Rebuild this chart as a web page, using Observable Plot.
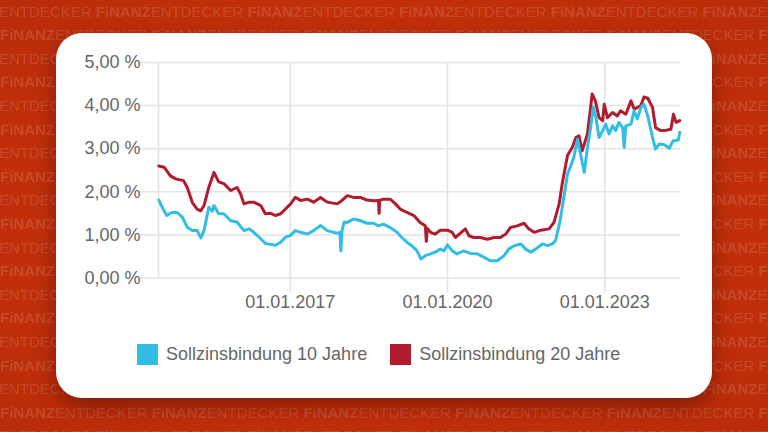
<!DOCTYPE html>
<html>
<head>
<meta charset="utf-8">
<script src="https://cdn.jsdelivr.net/npm/d3@7"></script>
<script src="https://cdn.jsdelivr.net/npm/@observablehq/plot@0.6"></script>
<style>
  html, body { margin: 0; padding: 0; }
  body { width: 768px; height: 432px; overflow: hidden; position: relative;
         background: radial-gradient(ellipse at center, #c9340a 0%, #c3300a 60%, #b92c09 100%);
         font-family: "Liberation Sans", Arial, Helvetica, sans-serif; }
  #wm { position: absolute; left: 0; top: 0; width: 768px; height: 432px; overflow: hidden; }
  .wrow { position: absolute; white-space: nowrap; font-size: 15px; line-height: 15px;
          color: rgba(255,255,255,0.14); }
  .wrow b { font-weight: 700; }
  #card { position: absolute; left: 56px; top: 33px; width: 656px; height: 365px;
          background: #fff; border-radius: 26px; box-shadow: 0 8px 22px rgba(60,0,0,0.45); }
  #chart { position: absolute; left: 0; top: 0; }
  #legend { position: absolute; left: 137px; top: 343px; display: flex; align-items: center;
            font-size: 18px; color: #666; height: 22px; }
  .item { display: flex; align-items: center; margin-right: 23px; }
  .sw { width: 21px; height: 21px; margin-right: 8px; box-sizing: border-box; }
</style>
</head>
<body>
<div id="wm"></div>
<div id="card"></div>
<div id="chart"></div>
<div id="legend"></div>
<script>
// ---- data ----
const seriesNames = ["Sollzinsbindung 10 Jahre", "Sollzinsbindung 20 Jahre"];
const seriesColors = ["#31bde4", "#b01c2e"];
const yTicks = [0, 1, 2, 3, 4, 5];
const xTicks = ["2017-01-01", "2020-01-01", "2023-01-01"];

const dates10 = ["2014-07-01","2014-07-19","2014-08-25","2014-10-01","2014-11-06","2014-12-12","2015-01-15","2015-02-20","2015-03-25","2015-04-20","2015-05-12","2015-06-14","2015-07-09","2015-07-20","2015-08-22","2015-09-27","2015-11-13","2015-12-28","2016-02-14","2016-03-22","2016-04-23","2016-06-10","2016-07-12","2016-08-18","2016-09-20","2016-10-27","2016-11-29","2017-01-04","2017-02-06","2017-03-14","2017-05-01","2017-06-13","2017-07-31","2017-09-16","2017-11-24","2017-12-13","2017-12-20","2017-12-28","2018-01-12","2018-02-03","2018-03-18","2018-05-05","2018-06-18","2018-08-04","2018-09-08","2018-10-12","2018-11-28","2019-01-15","2019-02-17","2019-03-25","2019-04-27","2019-06-03","2019-07-01","2019-07-31","2019-09-06","2019-10-08","2019-11-13","2019-12-09","2020-01-01","2020-02-03","2020-03-07","2020-04-23","2020-06-10","2020-07-27","2020-09-13","2020-10-27","2020-12-13","2021-01-30","2021-03-03","2021-04-09","2021-05-27","2021-06-29","2021-08-04","2021-09-06","2021-10-23","2021-11-28","2022-01-01","2022-01-23","2022-02-24","2022-03-25","2022-04-16","2022-05-08","2022-05-30","2022-06-25","2022-07-16","2022-08-11","2022-09-02","2022-09-24","2022-10-12","2022-10-31","2022-11-22","2022-12-17","2023-01-08","2023-01-30","2023-02-24","2023-03-18","2023-04-09","2023-05-05","2023-05-16","2023-05-27","2023-07-02","2023-07-24","2023-08-15","2023-09-09","2023-10-01","2023-10-27","2023-11-29","2023-12-20","2024-01-15","2024-02-20","2024-03-25","2024-04-20","2024-05-27","2024-06-06"];
const rate10 = [1.81,1.68,1.45,1.52,1.52,1.41,1.18,1.10,1.10,0.93,1.10,1.64,1.55,1.68,1.49,1.49,1.33,1.30,1.10,1.14,1.06,0.91,0.80,0.78,0.76,0.83,0.95,0.99,1.10,1.06,1.02,1.10,1.22,1.10,1.04,1.06,0.63,1.10,1.30,1.29,1.37,1.33,1.27,1.27,1.21,1.25,1.17,1.06,0.94,0.83,0.75,0.63,0.44,0.52,0.56,0.60,0.67,0.63,0.77,0.63,0.56,0.63,0.57,0.56,0.48,0.40,0.40,0.52,0.67,0.75,0.79,0.67,0.60,0.67,0.79,0.75,0.79,0.87,1.33,1.95,2.41,2.60,2.80,3.22,2.87,2.45,3.03,3.49,3.96,3.72,3.26,3.42,3.57,3.34,3.53,3.42,3.61,3.49,3.03,3.53,3.57,3.88,3.69,3.96,4.03,3.76,3.26,2.99,3.11,3.09,3.01,3.18,3.20,3.38];

const dates20 = ["2014-07-01","2014-08-07","2014-09-20","2014-10-27","2014-12-20","2015-01-15","2015-02-20","2015-03-25","2015-04-20","2015-05-12","2015-06-14","2015-07-20","2015-08-22","2015-09-27","2015-11-13","2015-12-28","2016-01-22","2016-02-14","2016-03-22","2016-04-23","2016-06-10","2016-07-12","2016-08-18","2016-09-20","2016-10-27","2016-11-29","2017-01-04","2017-02-06","2017-03-14","2017-05-01","2017-06-13","2017-07-31","2017-09-16","2017-11-24","2017-12-28","2018-02-03","2018-03-18","2018-05-05","2018-06-18","2018-08-04","2018-09-08","2018-09-12","2018-09-16","2018-10-12","2018-11-28","2019-01-04","2019-02-06","2019-03-25","2019-05-12","2019-06-25","2019-07-31","2019-08-07","2019-08-14","2019-09-06","2019-10-08","2019-11-13","2020-01-01","2020-02-03","2020-02-25","2020-04-01","2020-05-05","2020-05-30","2020-07-01","2020-08-18","2020-10-05","2020-11-22","2021-01-04","2021-02-10","2021-03-14","2021-05-01","2021-06-18","2021-07-20","2021-08-26","2021-10-12","2021-12-09","2022-01-12","2022-02-17","2022-03-10","2022-04-16","2022-05-19","2022-06-14","2022-07-05","2022-07-27","2022-09-02","2022-09-24","2022-10-05","2022-10-27","2022-11-22","2022-12-17","2022-12-28","2023-01-19","2023-02-24","2023-03-29","2023-04-20","2023-05-27","2023-07-02","2023-07-24","2023-09-09","2023-10-01","2023-10-27","2023-11-29","2023-12-20","2024-01-26","2024-03-03","2024-04-05","2024-04-23","2024-05-11","2024-06-06"];
const rate20 = [2.60,2.57,2.37,2.30,2.26,2.10,1.75,1.60,1.56,1.68,2.10,2.45,2.23,2.19,2.03,2.10,1.95,1.72,1.76,1.76,1.68,1.49,1.50,1.45,1.49,1.60,1.72,1.87,1.80,1.83,1.76,1.87,1.76,1.72,1.80,1.91,1.87,1.87,1.81,1.79,1.80,1.50,1.80,1.83,1.83,1.72,1.60,1.52,1.45,1.29,1.21,0.85,1.15,1.06,1.02,1.11,1.11,1.06,0.94,1.04,1.14,0.98,0.94,0.94,0.90,0.94,0.94,1.02,1.17,1.21,1.27,1.14,1.06,1.11,1.14,1.29,1.72,2.18,2.84,3.03,3.26,3.30,2.95,3.34,3.96,4.27,4.11,3.72,3.65,4.03,3.72,3.84,3.76,3.88,3.80,4.11,3.92,4.00,4.20,4.17,3.96,3.49,3.42,3.43,3.45,3.80,3.61,3.65];

// ---- build tables ----
const data10 = dates10.map((d, i) => ({date: new Date(d), value: rate10[i]}));
const data20 = dates20.map((d, i) => ({date: new Date(d), value: rate20[i]}));
const xDomain = [new Date("2014-06-29"), new Date("2024-06-11")];
const gridColor = "#e3e3e3";
const textColor = "#666666";

// ---- watermark background ----
const wm = document.getElementById("wm");
for (let r = 0; r < 19; r++) {
  const row = document.createElement("div");
  row.className = "wrow";
  row.style.top = (3.5 + r * 23.6) + "px";
  row.style.left = (r % 2 === 0 ? -56 : 0) + "px";
  row.innerHTML = "<b>FiNANZ</b>ENTDECKER ".repeat(8);
  wm.appendChild(row);
}

// ---- chart ----
const chart = Plot.plot({
  width: 768,
  height: 320,
  marginLeft: 158,
  marginRight: 88,
  marginTop: 62,
  marginBottom: 42.5,
  x: {type: "utc", domain: xDomain, label: null},
  y: {domain: [0, 5], label: null},
  style: {background: "transparent", fontFamily: "'Liberation Sans', Arial, Helvetica, sans-serif", fontSize: "18px", overflow: "visible"},
  marks: [
    Plot.ruleY(yTicks, {stroke: gridColor, strokeWidth: 1.5, insetLeft: -18}),
    Plot.ruleX(xTicks.map(d => new Date(d)), {stroke: gridColor, strokeWidth: 1.5, insetBottom: -15}),
    Plot.ruleX([xDomain[0]], {stroke: gridColor, strokeWidth: 1.5}),
    Plot.axisY(yTicks, {label: null, tickSize: 0, tickPadding: 18, fontSize: 18, fill: textColor, stroke: "none",
      tickFormat: d => d.toFixed(2).replace(".", ",") + " %"}),
    Plot.axisX(xTicks.map(d => new Date(d)), {label: null, tickSize: 0, tickPadding: 17, fontSize: 18, fill: textColor, stroke: "none",
      tickFormat: d3.utcFormat("%d.%m.%Y")}),
    Plot.line(data20, {x: "date", y: "value", stroke: seriesColors[1], strokeWidth: 3, strokeLinejoin: "round"}),
    Plot.line(data10, {x: "date", y: "value", stroke: seriesColors[0], strokeWidth: 3, strokeLinejoin: "round"})
  ]
});
document.getElementById("chart").appendChild(chart);

// ---- legend ----
const legend = document.getElementById("legend");
seriesNames.forEach((name, i) => {
  const item = document.createElement("div");
  item.className = "item";
  item.innerHTML = `<div class="sw" style="background:${seriesColors[i]}"></div><span>${name}</span>`;
  legend.appendChild(item);
});
</script>
</body>
</html>
